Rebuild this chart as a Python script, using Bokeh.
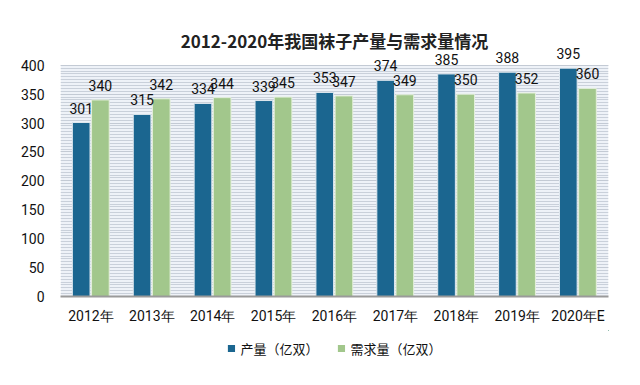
from bokeh.plotting import figure
from bokeh.layouts import column
from bokeh.core.properties import value
from bokeh.models import (ColumnDataSource, FactorRange, LabelSet, Label, Legend, LegendItem,
                          SingleIntervalTicker, BoxAnnotation, Range1d)
from bokeh.transform import dodge
from bokeh.embed import file_html
from bokeh.resources import INLINE

years = ["2012年", "2013年", "2014年", "2015年", "2016年", "2017年", "2018年", "2019年", "2020年E"]
production = [301, 315, 334, 339, 353, 374, 385, 388, 395]
demand = [340, 342, 344, 345, 347, 349, 350, 352, 360]
series_names = ["产量（亿双）", "需求量（亿双）"]
colors = ["#1b6690", "#a2c78c"]
title_text = "2012-2020年我国袜子产量与需求量情况"
y_max = 400

NUM_FONT = "Roboto"

src = ColumnDataSource(dict(
    year=years, prod=production, dem=demand,
    prod_txt=[str(v) for v in production], dem_txt=[str(v) for v in demand],
))

p = figure(x_range=FactorRange(*years), y_range=Range1d(0, 474), width=632, height=330,
           output_backend="svg", toolbar_location=None,
           min_border_left=60, min_border_right=24, min_border_top=22, min_border_bottom=34,
           border_fill_color="white", background_fill_color="white")
p.outline_line_color = None

band = BoxAnnotation(bottom=0, top=y_max, fill_color="#eef2f8", fill_alpha=1.0,
                     line_color=None, level="image")
p.add_layout(band)

r1 = p.vbar(x=dodge("year", -0.16, range=p.x_range), top="prod", width=0.29, source=src,
            fill_color=colors[0], line_color="#dfe8ef", line_width=1)
r2 = p.vbar(x=dodge("year", 0.155, range=p.x_range), top="dem", width=0.29, source=src,
            fill_color=colors[1], line_color="#e4efdc", line_width=1)

l1 = LabelSet(x=dodge("year", -0.16, range=p.x_range), y="prod", text="prod_txt", source=src,
              text_align="center", text_baseline="bottom", y_offset=9,
              text_font=value(NUM_FONT), text_font_size=value("14px"), text_color=value("#111111"))
l2 = LabelSet(x=dodge("year", 0.155, range=p.x_range), y="dem", text="dem_txt", source=src,
              text_align="center", text_baseline="bottom", y_offset=9,
              text_font=value(NUM_FONT), text_font_size=value("14px"), text_color=value("#111111"))
p.add_layout(l1)
p.add_layout(l2)

title = Label(x=len(years) / 2, y=443, text=title_text, text_align="center",
              text_baseline="middle", text_font="Noto Sans CJK SC", text_font_size="17px",
              text_font_style="bold", text_color="#222222")
p.add_layout(title)

p.yaxis.ticker = SingleIntervalTicker(interval=50, num_minor_ticks=10)
p.yaxis.bounds = (0, y_max)
p.ygrid.ticker = SingleIntervalTicker(interval=50, num_minor_ticks=10)
p.ygrid.bounds = (0, y_max)
p.ygrid.grid_line_color = "#c3cad4"
p.ygrid.minor_grid_line_color = "#c9d0da"
p.ygrid.minor_grid_line_width = 1
p.xgrid.grid_line_color = None

p.yaxis.axis_line_color = None
p.yaxis.major_tick_line_color = None
p.yaxis.minor_tick_line_color = None
p.yaxis.major_label_text_font = NUM_FONT
p.yaxis.major_label_text_font_size = "14px"
p.yaxis.major_label_text_color = "#111111"
p.yaxis.major_label_standoff = 10

p.xaxis.axis_line_color = "#9a9a9a"
p.xaxis.axis_line_width = 2
p.xaxis.major_tick_line_color = None
p.xaxis.minor_tick_line_color = None
p.xaxis.major_label_text_font = NUM_FONT
p.xaxis.major_label_text_font_size = "14px"
p.xaxis.major_label_text_color = "#111111"
p.xaxis.major_label_standoff = 5

# legend in a small figure below (swatch renderers use the real data, far outside its ranges)
lf = figure(width=632, height=36, output_backend="svg", toolbar_location=None,
            x_range=(0, 1), y_range=(0, 1), min_border=0,
            border_fill_color="white", background_fill_color="white")
lf.outline_line_color = None
lf.axis.visible = False
lf.grid.visible = False
d1 = lf.vbar(x="prod", bottom="prod", top="dem", width=0.1, source=src,
             fill_color=colors[0], line_color=None)
d2 = lf.vbar(x="dem", bottom="prod", top="dem", width=0.1, source=src,
             fill_color=colors[1], line_color=None)
legend = Legend(items=[LegendItem(label=series_names[0], renderers=[d1]),
                       LegendItem(label=series_names[1], renderers=[d2])],
                orientation="horizontal", location="center",
                border_line_color=None, background_fill_alpha=0,
                glyph_width=9, glyph_height=9, label_text_font="Noto Sans CJK SC",
                label_text_font_size="13px", label_text_color="#111111",
                spacing=18, margin=0, padding=2, label_standoff=5)
lf.add_layout(legend)

layout = column(p, lf, spacing=0)
open("out.html", "w").write(file_html(layout, INLINE))
